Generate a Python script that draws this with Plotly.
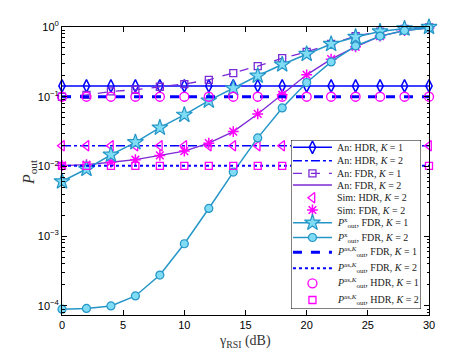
import plotly.graph_objects as go

# ---------------- data ----------------
gamma_db = [0, 2, 4, 6, 8, 10, 12, 14, 16, 18, 20, 22, 24, 26, 28, 30]

an_hdr_k1 = [0.143, 0.143, 0.143, 0.143, 0.143, 0.143, 0.143, 0.143,
             0.143, 0.143, 0.143, 0.143, 0.143, 0.143, 0.143, 0.143]
an_hdr_k2 = [0.0198, 0.0198, 0.0198, 0.0198, 0.0198, 0.0198, 0.0198, 0.0198,
             0.0198, 0.0198, 0.0198, 0.0198, 0.0198, 0.0198, 0.0198, 0.0198]
an_fdr_k1 = [0.100, 0.106, 0.119, 0.126, 0.139, 0.152, 0.175, 0.218,
             0.275, 0.357, 0.44, 0.57, 0.74, 0.86, 0.94, 0.99]
an_fdr_k2 = [0.0103, 0.0106, 0.0115, 0.0125, 0.0144, 0.0166, 0.0216, 0.0316,
             0.0567, 0.107, 0.206, 0.346, 0.52, 0.74, 0.89, 0.97]
sim_hdr_k2 = [0.0198, 0.0198, 0.0198, 0.0198, 0.0198, 0.0198, 0.0198, 0.0198,
              0.0198, 0.0198, 0.0198, 0.0198, 0.0198, 0.0198, 0.0198, 0.0198]
sim_fdr_k2 = [0.0103, 0.0106, 0.0115, 0.0125, 0.0144, 0.0166, 0.0216, 0.0316,
              0.0567, 0.107, 0.206, 0.346, 0.52, 0.74, 0.89, 0.97]
px_fdr_k1 = [0.0061, 0.0092, 0.0147, 0.0222, 0.036, 0.055, 0.088, 0.132,
             0.20, 0.29, 0.41, 0.57, 0.72, 0.86, 0.95, 1.0]
px_fdr_k2 = [9.0e-5, 9.2e-5, 1.0e-4, 1.39e-4, 2.77e-4, 7.8e-4, 2.5e-3, 8.3e-3,
             0.0257, 0.069, 0.16, 0.316, 0.535, 0.74, 0.89, 0.97]
pas_fdr_k1 = [0.1, 0.1, 0.1, 0.1, 0.1, 0.1, 0.1, 0.1,
              0.1, 0.1, 0.1, 0.1, 0.1, 0.1, 0.1, 0.1]
pas_fdr_k2 = [0.0102, 0.0102, 0.0102, 0.0102, 0.0102, 0.0102, 0.0102, 0.0102,
              0.0102, 0.0102, 0.0102, 0.0102, 0.0102, 0.0102, 0.0102, 0.0102]
pas_hdr_k1 = [0.1, 0.1, 0.1, 0.1, 0.1, 0.1, 0.1, 0.1,
              0.1, 0.1, 0.1, 0.1, 0.1, 0.1, 0.1, 0.1]
pas_hdr_k2 = [0.0102, 0.0102, 0.0102, 0.0102, 0.0102, 0.0102, 0.0102, 0.0102,
              0.0102, 0.0102, 0.0102, 0.0102, 0.0102, 0.0102, 0.0102, 0.0102]

series_names = [
    "An: HDR, <i>K</i> = 1",
    "An: HDR, <i>K</i> = 2",
    "An: FDR, <i>K</i> = 1",
    "An: FDR, <i>K</i> = 2",
    "Sim: HDR, <i>K</i> = 2",
    "Sim: FDR, <i>K</i> = 2",
    "<i>P</i><sup>x</sup><sub>out</sub>, FDR, <i>K</i> = 1",
    "<i>P</i><sup>x</sup><sub>out</sub>, FDR, <i>K</i> = 2",
    "<i>P</i><sup>as,<i>K</i></sup><sub>out</sub>, FDR, <i>K</i> = 1",
    "<i>P</i><sup>as,<i>K</i></sup><sub>out</sub>, FDR, <i>K</i> = 2",
    "<i>P</i><sup>as,<i>K</i></sup><sub>out</sub>, HDR, <i>K</i> = 1",
    "<i>P</i><sup>as,<i>K</i></sup><sub>out</sub>, HDR, <i>K</i> = 2",
]
series_values = [an_hdr_k1, an_hdr_k2, an_fdr_k1, an_fdr_k2, sim_hdr_k2, sim_fdr_k2,
                 px_fdr_k1, px_fdr_k2, pas_fdr_k1, pas_fdr_k2, pas_hdr_k1, pas_hdr_k2]

x_ticks = [0, 5, 10, 15, 20, 25, 30]
y_tickvals = [1e-4, 1e-3, 1e-2, 1e-1, 1]
y_ticktext = ["10<sup>−4</sup>", "10<sup>−3</sup>", "10<sup>−2</sup>", "10<sup>−1</sup>", "10<sup>0</sup>"]
y_minor = [m * d for d in [1e-5, 1e-4, 1e-3, 1e-2, 1e-1] for m in range(2, 10)]

x_title = "γ<sub>RSI</sub> (dB)"
y_title = "<i>P</i><sub>out</sub>"

# ---------------- styles ----------------
BLUE = "#0000ff"
PURPLE = "#7b2ad6"
MAG = "#ff00ff"
CYAN_L = "#2596c8"
CYAN_F = "#7fdcf4"

styles = [
    dict(mode="lines+markers", line=dict(color=BLUE, width=1.5, dash="solid"),
         marker=dict(symbol="diamond-tall-open", size=9, color=BLUE, line=dict(width=1.5, color=BLUE))),
    dict(mode="lines", line=dict(color=BLUE, width=1.5, dash="dashdot")),
    dict(mode="lines+markers", line=dict(color=PURPLE, width=1.3, dash="dash"),
         marker=dict(symbol="square-open", size=7, color=PURPLE, line=dict(width=1.3, color=PURPLE))),
    dict(mode="lines", line=dict(color=PURPLE, width=1.3, dash="solid")),
    dict(mode="markers",
         marker=dict(symbol="triangle-left-open", size=9, color=MAG, line=dict(width=1.3, color=MAG))),
    dict(mode="markers",
         marker=dict(symbol="asterisk-open", size=9, color=MAG, line=dict(width=1.5, color=MAG))),
    dict(mode="lines+markers", line=dict(color=CYAN_L, width=1.5),
         marker=dict(symbol="star", size=12, color=CYAN_F, line=dict(width=1.2, color=CYAN_L))),
    dict(mode="lines+markers", line=dict(color=CYAN_L, width=1.5),
         marker=dict(symbol="circle", size=8, color=CYAN_F, line=dict(width=1.2, color=CYAN_L))),
    dict(mode="lines", line=dict(color=BLUE, width=3, dash="dash")),
    dict(mode="lines", line=dict(color=BLUE, width=2, dash="dot")),
    dict(mode="markers",
         marker=dict(symbol="circle-open", size=9, color=MAG, line=dict(width=1.3, color=MAG))),
    dict(mode="markers",
         marker=dict(symbol="square-open", size=7, color=MAG, line=dict(width=1.3, color=MAG))),
]

fig = go.Figure()

for name, vals, st in zip(series_names, series_values, styles):
    fig.add_trace(go.Scatter(x=gamma_db, y=vals, name=name, showlegend=False,
                             cliponaxis=False, xaxis="x", yaxis="y", **st))

W, H = 474, 355
L, R, T, B = 62, 429, 27, 315

# ---------------- custom legend (overlay axes) ----------------
legend_rows_px = [147.3, 160.7, 173.3, 185.0, 197.7, 210.0, 222.7, 237.5, 252.3, 268.3, 283.3, 300.0]
box_left, box_right, box_top, box_bot = 291.0, 421.0, 140.0, 309.0
fig.add_trace(go.Scatter(x=[0, 1, 1, 0, 0], y=[0, 0, 1, 1, 0], mode="lines", fill="toself",
                         fillcolor="white", line=dict(color="black", width=1),
                         showlegend=False, hoverinfo="skip", xaxis="x2", yaxis="y2"))
for name, st, rp in zip(series_names, styles, legend_rows_px):
    yr = (box_bot - rp) / (box_bot - box_top)
    if "lines" in st["mode"]:
        fig.add_trace(go.Scatter(x=[0.015, 0.315], y=[yr, yr], mode="lines", line=st["line"],
                                 showlegend=False, hoverinfo="skip", xaxis="x2", yaxis="y2"))
    if "markers" in st["mode"]:
        fig.add_trace(go.Scatter(x=[0.165], y=[yr], mode="markers", marker=st["marker"],
                                 showlegend=False, hoverinfo="skip", cliponaxis=False,
                                 xaxis="x2", yaxis="y2"))
    fig.add_annotation(x=0.335, y=yr, xref="x2", yref="y2", text=name, showarrow=False,
                       xanchor="left", yanchor="middle",
                       font=dict(family="Liberation Serif", size=10, color="#222"))

# axis titles as annotations (exact placement)
fig.add_annotation(x=(245 - L) / (R - L), y=(B - 341) / (B - T), xref="paper", yref="paper",
                   text=x_title, showarrow=False, xanchor="center", yanchor="middle",
                   font=dict(family="Liberation Serif", size=14, color="#333"))
fig.add_annotation(x=(29 - L) / (R - L), y=(B - 172) / (B - T), xref="paper", yref="paper",
                   text=y_title, showarrow=False, textangle=-90, xanchor="center", yanchor="middle",
                   font=dict(family="Liberation Serif", size=16, color="#333"))

fig.update_layout(
    width=W, height=H,
    margin=dict(l=L, r=W - R, t=T, b=H - B, autoexpand=False),
    plot_bgcolor="white", paper_bgcolor="white",
    font=dict(family="Liberation Sans", size=11, color="black"),
    xaxis=dict(range=[0, 30], tickvals=x_ticks, ticks="inside", ticklen=5, tickcolor="black",
               showline=True, linecolor="black", linewidth=1, mirror="ticks", showgrid=False,
               zeroline=False, automargin=False),
    yaxis=dict(type="log", range=[-4.13, 0], tickvals=y_tickvals, ticktext=y_ticktext,
               ticks="inside", ticklen=5, tickcolor="black",
               showline=True, linecolor="black", linewidth=1, mirror="ticks", showgrid=False,
               zeroline=False, automargin=False,
               minor=dict(ticks="inside", ticklen=2.5, tickcolor="black", tickvals=y_minor,
                          showgrid=False)),
    xaxis2=dict(domain=[(box_left - L) / (R - L), (box_right - L) / (R - L)], range=[0, 1],
                anchor="y2", visible=False, fixedrange=True),
    yaxis2=dict(domain=[(B - box_bot) / (B - T), (B - box_top) / (B - T)], range=[0, 1],
                anchor="x2", visible=False, fixedrange=True),
)

fig.write_html("out.html", config={"displayModeBar": False},
               post_script="document.body.style.margin='0';document.body.style.overflow='hidden';")
